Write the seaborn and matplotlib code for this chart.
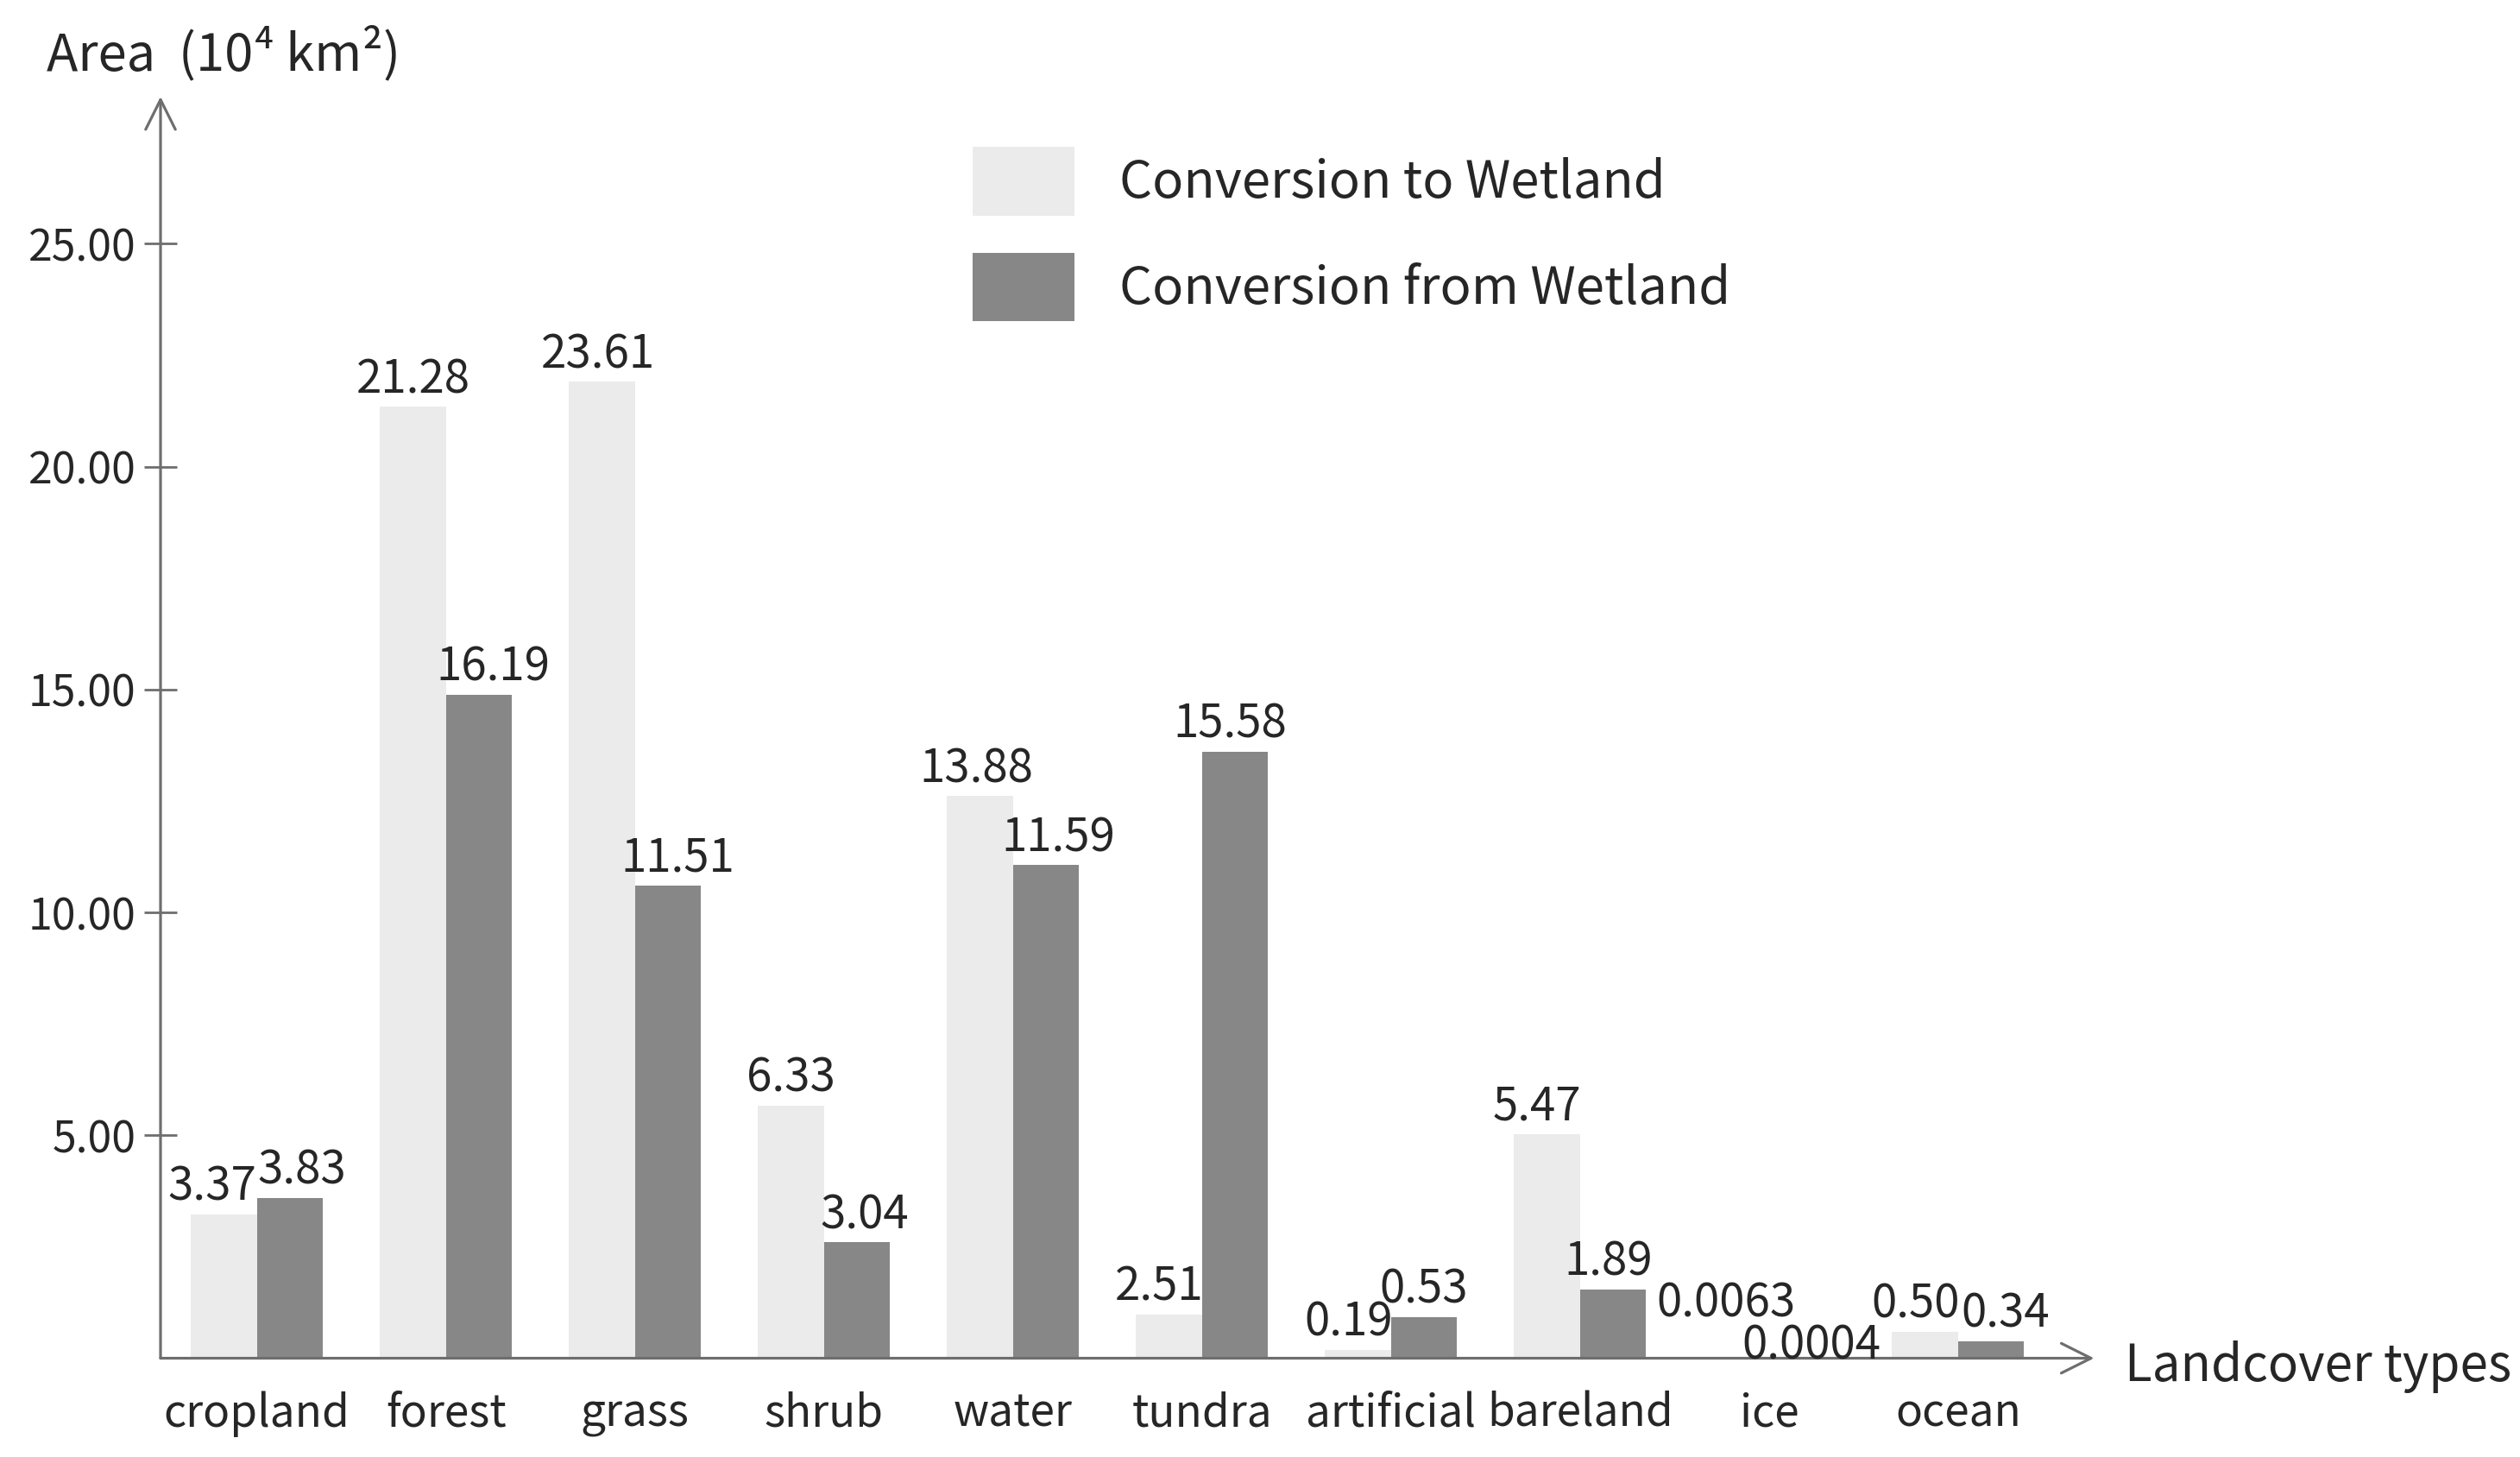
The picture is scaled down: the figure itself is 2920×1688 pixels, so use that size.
import pandas as pd
import numpy as np
import matplotlib
matplotlib.use("Agg")
import matplotlib.pyplot as plt
from matplotlib.patches import Patch
import seaborn as sns

# data (bar heights as drawn, labels as printed)
landcover = ["cropland", "forest", "grass", "shrub", "water",
             "tundra", "artificial", "bareland", "ice", "ocean"]
to_wetland = [3.23, 21.34, 21.90, 5.67, 12.61, 0.98, 0.19, 5.03, 0.0063, 0.59]
from_wetland = [3.59, 14.89, 10.61, 2.60, 11.06, 13.60, 0.92, 1.54, 0.0004, 0.38]
to_labels = ["3.37", "21.28", "23.61", "6.33", "13.88", "2.51", "0.19", "5.47", "0.0063", "0.50"]
from_labels = ["3.83", "16.19", "11.51", "3.04", "11.59", "15.58", "0.53", "1.89", "0.0004", "0.34"]
series = ["Conversion to Wetland", "Conversion from Wetland"]
yticks = [5, 10, 15, 20, 25]

LIGHT = "#ebebeb"
DARK = "#878787"
AXIS = "#6e6e6e"

# small sideways nudges of the value labels (points), so neighbours don't collide
to_dx = [-10, 0, -3, 0, -3, -8, -8, -8, -8, -8]
from_dx = [10, 12, 8, 6, 10, -4, 0, -4, 8, 12]

sns.set_theme(style="white")
plt.rcParams["font.family"] = ["Noto Sans CJK SC", "DejaVu Sans"]

df = pd.DataFrame({
    "landcover": landcover * 2,
    "area": to_wetland + from_wetland,
    "series": [series[0]] * len(landcover) + [series[1]] * len(landcover),
})

fig = plt.figure(figsize=(29.2, 16.88), dpi=100)
ax = fig.add_axes([0.0637, 0.0678, 0.7673, 0.8659])

sns.barplot(data=df, x="landcover", y="area", hue="series", order=landcover,
            hue_order=series, palette=[LIGHT, DARK], saturation=1, width=0.7,
            linewidth=0, legend=False, ax=ax)

ax.set_xlim(-0.51, 9.72)
ax.set_ylim(0, 28.3)
for s in ax.spines.values():
    s.set_visible(False)

# axis lines with open arrow heads
arrow = dict(arrowstyle="->,head_length=0.4,head_width=0.2", color=AXIS, lw=2.3,
             mutation_scale=62, shrinkA=0, shrinkB=0)
ax.annotate("", xy=(0, 1), xytext=(0, 0), xycoords="axes fraction", arrowprops=arrow)
ax.annotate("", xy=(1, 0), xytext=(0, 0), xycoords="axes fraction", arrowprops=arrow)

ax.set_yticks(yticks)
ax.set_yticklabels([f"{v:.2f}" for v in yticks])
ax.tick_params(axis="y", direction="inout", length=27, width=2, color=AXIS,
               labelsize=36, pad=7, left=True)
ax.tick_params(axis="x", length=0, labelsize=37, pad=27)
ax.set_xlabel("")
ax.set_ylabel("")

# value labels
texts_to = ax.bar_label(ax.containers[0], labels=to_labels, padding=3, fontsize=38)
texts_from = ax.bar_label(ax.containers[1], labels=from_labels, padding=3, fontsize=38)
for t, dx in zip(texts_to, to_dx):
    t.xyann = (dx, t.xyann[1])
for t, dx in zip(texts_from, from_dx):
    t.xyann = (dx, t.xyann[1])
# ice labels sit one above the other
texts_to[8].xyann = (to_dx[8], 26)
texts_from[8].xyann = (from_dx[8], -9)

fig.text(0.0185, 0.9627, "Area  (10⁴ km²)", fontsize=43, va="center", ha="left")
fig.text(0.843, 0.0622, "Landcover types", fontsize=42, va="center", ha="left")

handles = [Patch(facecolor=LIGHT, edgecolor="none"), Patch(facecolor=DARK, edgecolor="none")]
fig.legend(handles, series, loc="upper left", bbox_to_anchor=(0.386, 0.899),
           frameon=False, fontsize=43, handlelength=1.97, handleheight=1.66,
           handletextpad=0.875, labelspacing=0.72, borderpad=0, borderaxespad=0)

fig.savefig("out.png", dpi=100)
